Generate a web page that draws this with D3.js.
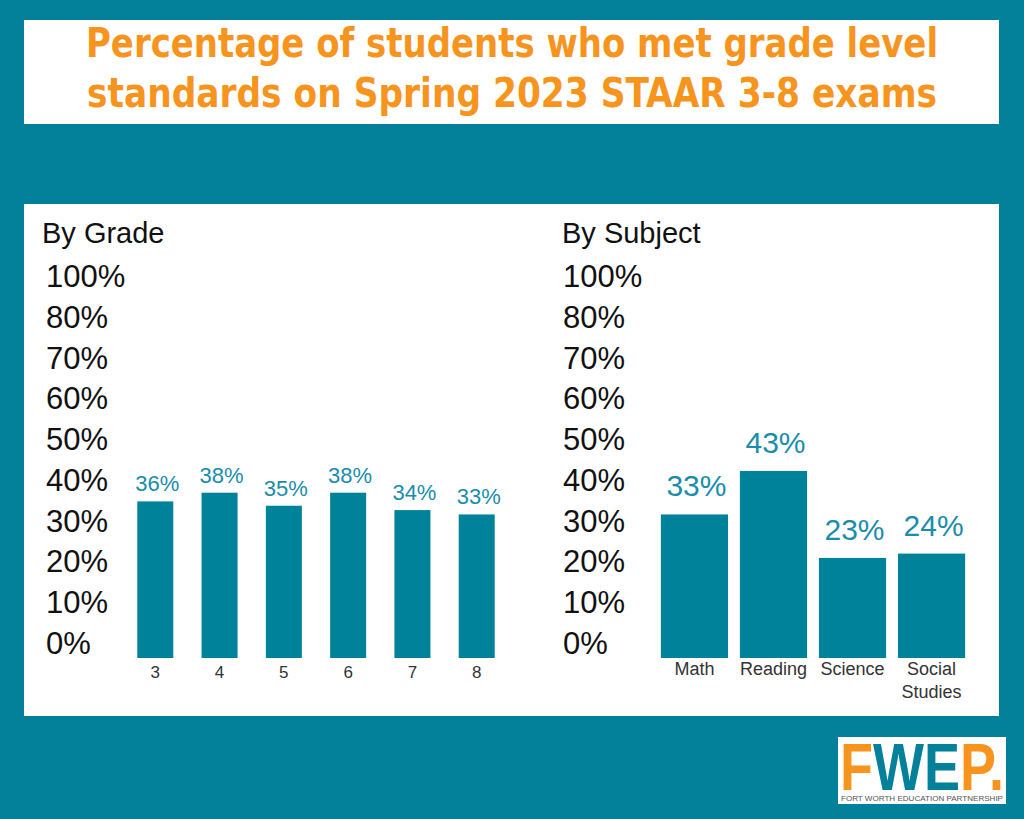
<!DOCTYPE html>
<html>
<head>
<meta charset="utf-8">
<script src="https://cdn.jsdelivr.net/npm/d3@7"></script>
<style>
  html, body { margin: 0; padding: 0; background: #04819a; }
  svg { display: block; }
</style>
</head>
<body>
<div id="chart"></div>
<script>
// Data
var grades = ['3', '4', '5', '6', '7', '8'];
var gradeValues = [36, 38, 35, 38, 34, 33];
var subjects = ['Math', 'Reading', 'Science', 'Social Studies'];
var subjectValues = [33, 43, 23, 24];
var tickLabels = ['100%', '80%', '70%', '60%', '50%', '40%', '30%', '20%', '10%', '0%'];

var teal = '#04819a',
    barColor = '#00829a',
    labelTeal = '#1a8dab',
    orange = '#f7941d';

var W = 1024, H = 819;
var svg = d3.select('#chart').append('svg')
    .attr('width', W)
    .attr('height', H);

svg.append('rect').attr('width', W).attr('height', H).attr('fill', teal);

// Title box
svg.append('rect')
    .attr('x', 24).attr('y', 20).attr('width', 975).attr('height', 104)
    .attr('fill', '#fff');

var titleFont = '"Liberation Sans Narrow", "DejaVu Sans Condensed", "Roboto Condensed", sans-serif';
[['Percentage of students who met grade level', 57, 852],
 ['standards on Spring 2023 STAAR 3-8 exams', 107, 850]].forEach(function(t) {
    svg.append('text')
        .attr('x', 512).attr('y', t[1])
        .attr('text-anchor', 'middle')
        .attr('font-family', titleFont)
        .attr('font-weight', 'bold')
        .attr('font-size', 40)
        .attr('textLength', t[2])
        .attr('lengthAdjust', 'spacingAndGlyphs')
        .attr('fill', orange)
        .text(t[0]);
});

// Chart panel
svg.append('rect')
    .attr('x', 24).attr('y', 204).attr('width', 975).attr('height', 512)
    .attr('fill', '#fff');

var baseY = 658;
var y = d3.scaleLinear().domain([0, 100]).range([baseY, baseY - 435]);
var tickY = d3.scalePoint().domain(tickLabels).range([287, 654]);
var font = '"Liberation Sans", Arial, sans-serif';

function drawPanel(opts) {
    var g = svg.append('g');

    g.append('text')
        .attr('x', opts.titleX).attr('y', 243)
        .attr('font-family', font)
        .attr('font-size', 29)
        .attr('fill', '#111')
        .text(opts.title);

    g.selectAll('.tick-label')
        .data(tickLabels)
      .enter().append('text')
        .attr('class', 'tick-label')
        .attr('x', opts.tickX)
        .attr('y', function(d) { return tickY(d); })
        .attr('font-family', font)
        .attr('font-size', 31)
        .attr('fill', '#111')
        .text(function(d) { return d; });

    var x = d3.scaleBand()
        .domain(opts.cats)
        .range(opts.range)
        .paddingInner(opts.pad)
        .paddingOuter(opts.pad);

    var data = opts.cats.map(function(c, i) { return {cat: c, value: opts.values[i]}; });

    g.selectAll('.bar')
        .data(data)
      .enter().append('rect')
        .attr('class', 'bar')
        .attr('x', function(d) { return x(d.cat); })
        .attr('width', x.bandwidth())
        .attr('y', function(d) { return y(d.value); })
        .attr('height', function(d) { return baseY - y(d.value); })
        .attr('fill', barColor);

    g.selectAll('.value-label')
        .data(data)
      .enter().append('text')
        .attr('class', 'value-label')
        .attr('x', function(d) { return x(d.cat) + x.bandwidth() / 2 + 2; })
        .attr('y', function(d) { return y(d.value) - opts.valueGap; })
        .attr('text-anchor', 'middle')
        .attr('font-family', font)
        .attr('font-size', opts.valueSize)
        .attr('fill', labelTeal)
        .text(function(d) { return d.value + '%'; });

    var cl = g.selectAll('.cat-label')
        .data(data)
      .enter().append('text')
        .attr('class', 'cat-label')
        .attr('text-anchor', 'middle')
        .attr('font-family', font)
        .attr('font-size', opts.catSize)
        .attr('fill', '#333')
        .attr('transform', function(d) {
            return 'translate(' + (x(d.cat) + x.bandwidth() / 2) + ',' + opts.catY + ')';
        });
    cl.each(function(d) {
        var words = opts.wrap && d.cat.indexOf(' ') > 0 ? d.cat.split(' ') : [d.cat];
        var t = d3.select(this);
        words.forEach(function(w, i) {
            t.append('tspan').attr('x', 0).attr('dy', i === 0 ? 0 : 23).text(w);
        });
    });
}

drawPanel({
    title: 'By Grade', titleX: 42, tickX: 46,
    cats: grades, values: gradeValues,
    range: [109, 523], pad: 0.44,
    valueGap: 10, valueSize: 22,
    catSize: 17, catY: 678, wrap: false
});

drawPanel({
    title: 'By Subject', titleX: 562, tickX: 563,
    cats: subjects, values: subjectValues,
    range: [649, 977], pad: 0.15,
    valueGap: 18, valueSize: 30,
    catSize: 18, catY: 675, wrap: true
});

// FWEP logo
var logo = svg.append('g');
logo.append('rect')
    .attr('x', 838).attr('y', 737).attr('width', 168).attr('height', 67)
    .attr('fill', '#fff');
var logoText = logo.append('text')
    .attr('x', 840).attr('y', 790)
    .attr('font-family', '"Liberation Sans", Arial, sans-serif')
    .attr('font-weight', 'bold')
    .attr('font-size', 66)
    .attr('textLength', 164)
    .attr('lengthAdjust', 'spacingAndGlyphs');
logoText.append('tspan').attr('fill', orange).text('F');
logoText.append('tspan').attr('fill', teal).text('WE');
logoText.append('tspan').attr('fill', orange).text('P.');
logo.append('text')
    .attr('x', 841).attr('y', 801)
    .attr('font-family', '"Liberation Sans", Arial, sans-serif')
    .attr('font-size', 8)
    .attr('textLength', 162)
    .attr('lengthAdjust', 'spacingAndGlyphs')
    .attr('fill', '#555')
    .text('FORT WORTH EDUCATION PARTNERSHIP');
</script>
</body>
</html>
